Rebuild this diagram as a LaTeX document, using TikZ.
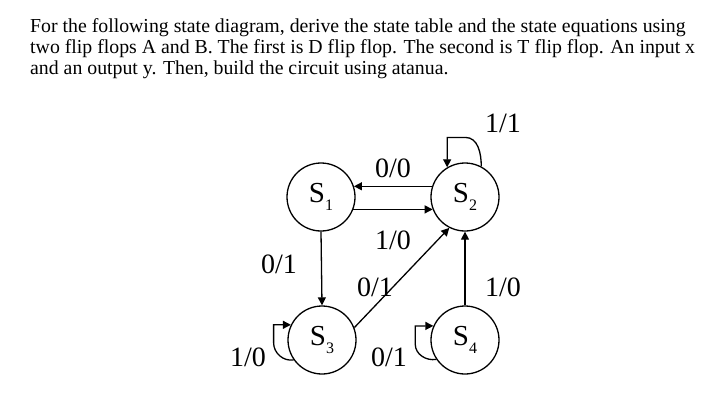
\documentclass[tikz,border=0pt]{standalone}
\usepackage{fontspec}
\setmainfont{Liberation Serif}
\usetikzlibrary{arrows.meta}
\tikzstyle{state} = [circle, draw, line width=1.3pt, minimum size=68pt, inner sep=0pt, font=\fontsize{29}{29}\selectfont]
\tikzstyle{arrow} = [-{Triangle[length=8pt,width=8pt]}, line width=1.3pt]
\tikzstyle{lbl} = [font=\fontsize{28}{28}\selectfont, inner sep=1pt]
\tikzstyle{qline} = [anchor=base west, inner sep=0pt, font=\fontsize{19.8}{21}\selectfont]
\newcommand{\st}[1]{S\raisebox{-0.25em}{\fontsize{16}{16}\selectfont #1}}

\begin{document}
\begin{tikzpicture}[x=1pt, y=-1pt]
    \useasboundingbox (0,0) rectangle (722,409);

    % Question
    \node[qline] (q1) at (30,33) {For the following state diagram, derive the state table and the state equations using};
    \node[qline] (q2) at (30,54) {two flip flops A and B. The first is D flip flop. The second is T flip flop. An input x};
    \node[qline] (q3) at (30,75) {and an output y. Then, build the circuit using atanua.};

    % States
    \node[state] (s1) at (321,197) {\st{1}};
    \node[state] (s2) at (465,197) {\st{2}};
    \node[state] (s3) at (322,340) {\st{3}};
    \node[state] (s4) at (465,340) {\st{4}};

    % Transitions
    \draw[arrow] (s2.162) -- (s1.18);
    \draw[arrow] (s1.-21) -- (s2.201);
    \draw[arrow] (s1.south) -- (s3.north);
    \draw[arrow] (s3.21) -- (s2.243);
    \draw[arrow] (s4.north) -- (s2.south);

    % Self loops
    \draw[arrow] (s2.62) to[out=90, in=0] ++(-16,-29) -| (s2.121);
    \draw[arrow] (s3.215) to[out=190, in=-90] ++(-20,-17) |- (s3.154);
    \draw[arrow] (s4.214) to[out=190, in=-90] ++(-21,-15) |- (s4.156);

    % Labels
    \node[lbl] (l00) at (393,168) {0/0};
    \node[lbl] (l10a) at (393,240) {1/0};
    \node[lbl] (l01a) at (279,264) {0/1};
    \node[lbl] (l01b) at (375,287) {0/1};
    \node[lbl] (l10b) at (503,287) {1/0};
    \node[lbl] (l11) at (503,123) {1/1};
    \node[lbl] (l10c) at (248,357) {1/0};
    \node[lbl] (l01c) at (389,357) {0/1};
\end{tikzpicture}
\end{document}
